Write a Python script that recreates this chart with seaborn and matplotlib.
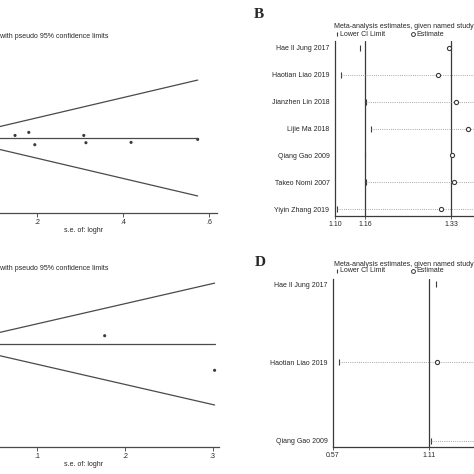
import numpy as np
import pandas as pd
import matplotlib
matplotlib.use("Agg")
import matplotlib.pyplot as plt
from matplotlib.lines import Line2D
import seaborn as sns

# ---- data ----
# A: Begg funnel (7 studies)
a_se = [0.149, 0.181, 0.195, 0.309, 0.314, 0.419, 0.574]
a_loghr = [0.335, 0.394, 0.155, 0.335, 0.194, 0.200, 0.258]
a_pooled = 0.285
a_ticks = [0.2, 0.4, 0.6]
a_ticklabels = [".2", ".4", ".6"]

# C: Begg funnel (3 studies)
c_se = [0.177, 0.302]
c_loghr = [0.181, -0.155]
c_pooled = 0.100
c_ticks = [0.1, 0.2, 0.3]
c_ticklabels = [".1", ".2", ".3"]

# B: leave-one-out, 7 studies
b_studies = ["Hae Il Jung 2017", "Haotian Liao 2019", "Jianzhen Lin 2018", "Lijie Ma 2018",
             "Qiang Gao 2009", "Takeo Nomi 2007", "Yiyin Zhang 2019"]
b_lower = [1.150, 1.111, 1.161, 1.172, 1.160, 1.162, 1.104]
b_est = [1.325, 1.304, 1.339, 1.363, 1.331, 1.335, 1.309]
b_upper = [1.52, 1.50, 1.55, 1.58, 1.53, 1.54, 1.51]
b_dotted = [False, True, True, True, False, True, True]
b_full = [1.16, 1.33, 1.53]
b_ticks = [1.10, 1.16, 1.33]

# D: leave-one-out, 3 studies
d_studies = ["Hae Il Jung 2017", "Haotian Liao 2019", "Qiang Gao 2009"]
d_lower = [1.149, 0.605, 1.122]
d_est = [1.45, 1.153, 1.42]
d_upper = [1.85, 2.20, 1.90]
d_dotted = [False, True, True]
d_full = [1.11, 1.50, 2.05]
d_ticks = [0.57, 1.11]

sns.set_theme(style="white")
plt.rcParams['font.family'] = ['Liberation Sans', 'DejaVu Sans']

W = 474.0
fig = plt.figure(figsize=(4.74, 4.74), dpi=100)
fig.patch.set_facecolor("white")

def px_axes(l, t, r, b):
    return fig.add_axes([l / W, 1 - b / W, (r - l) / W, (b - t) / W])

GREY = "#3a3a3a"
LINE = "#4a4a4a"
FS = 5.0


def funnel(ax, se, loghr, pooled, ticks, ticklabels, xmax, ylim):
    df = pd.DataFrame({"se": se, "loghr": loghr})
    s = np.array([0, max(se)])
    ax.plot(s, pooled + 1.96 * s, color=LINE, lw=0.9)
    ax.plot(s, pooled - 1.96 * s, color=LINE, lw=0.9)
    ax.plot(s, [pooled, pooled], color=LINE, lw=0.9)
    sns.scatterplot(data=df, x="se", y="loghr", ax=ax, color=GREY, s=5,
                    edgecolor="none", legend=False)
    ax.set_xlim(0, xmax)
    ax.set_ylim(*ylim)
    for sp in ["top", "right", "left"]:
        ax.spines[sp].set_visible(False)
    ax.spines["bottom"].set_color(LINE)
    ax.spines["bottom"].set_linewidth(0.9)
    ax.set_xticks(ticks)
    ax.set_xticklabels(ticklabels, fontsize=FS)
    ax.tick_params(axis="x", length=3, width=0.6, color=GREY, pad=1, bottom=True)
    ax.set_yticks([])
    ax.set_xlabel("s.e. of: loghr", fontsize=FS, labelpad=1)
    ax.set_ylabel("")
    ax.patch.set_alpha(0)


def influence(ax, studies, lower, est, upper, dotted, full, ticks, xlim, ylim):
    df = pd.DataFrame({"study": studies, "lower": lower, "est": est, "upper": upper})
    df["row"] = np.arange(len(df))
    for v in full:
        ax.axvline(v, color=GREY, lw=0.9)
    for i, r in df.iterrows():
        if dotted[i]:
            ax.plot([r["lower"], r["upper"]], [r["row"], r["row"]], color="#888888",
                    lw=0.6, ls=(0, (1, 1.6)))
    sns.scatterplot(data=df, x="lower", y="row", ax=ax, marker="|", s=14,
                    color=GREY, linewidth=0.8, legend=False)
    sns.scatterplot(data=df, x="upper", y="row", ax=ax, marker="|", s=14,
                    color=GREY, linewidth=0.8, legend=False)
    sns.scatterplot(data=df, x="est", y="row", ax=ax, marker="o", s=9,
                    facecolor="white", edgecolor=GREY, linewidth=0.8, legend=False,
                    zorder=5)
    ax.set_xlim(*xlim)
    ax.set_ylim(*ylim)
    ax.set_yticks(df["row"])
    ax.set_yticklabels(studies, fontsize=FS)
    ax.set_xticks(ticks)
    ax.set_xticklabels([f"{t:.2f}" for t in ticks], fontsize=FS)
    ax.tick_params(axis="y", length=0, pad=4)
    ax.tick_params(axis="x", length=2.5, width=0.6, color=GREY, pad=1, bottom=True)
    for sp in ["top", "right"]:
        ax.spines[sp].set_visible(False)
    for sp in ["left", "bottom"]:
        ax.spines[sp].set_color(GREY)
        ax.spines[sp].set_linewidth(0.9)
    ax.set_xlabel("")
    ax.set_ylabel("")
    ax.patch.set_alpha(0)


# A
axA = px_axes(-49, 45, 217, 213)
funnel(axA, a_se, a_loghr, a_pooled, a_ticks, a_ticklabels, 0.619,
       (a_pooled - 1.456, a_pooled + 1.806))
fig.text(108 / W, 1 - 36 / W, "Begg's funnel plot with pseudo 95% confidence limits",
         fontsize=FS, ha="right", va="center")

# C
axC = px_axes(-51, 272, 219, 447)
funnel(axC, c_se, c_loghr, c_pooled, c_ticks, c_ticklabels, 0.307,
       (c_pooled - 1.0, c_pooled + 0.70))
fig.text(108 / W, 1 - 269 / W, "Begg's funnel plot with pseudo 95% confidence limits",
         fontsize=FS, ha="right", va="center")

# B
axB = px_axes(335, 41, 588, 216)
influence(axB, b_studies, b_lower, b_est, b_upper, b_dotted, b_full, b_ticks,
          (1.10, 1.60), (6.26, -0.26))

# D
axD = px_axes(333, 279, 587, 447)
influence(axD, d_studies, d_lower, d_est, d_upper, d_dotted, d_full, d_ticks,
          (0.57, 2.0), (2.08, -0.064))

for letter, x, y in [("B", 259, 15), ("D", 260, 262)]:
    fig.text(x / W, 1 - y / W, letter, fontsize=11, fontweight="bold",
             family=["Liberation Serif", "DejaVu Serif"], ha="center", va="center")

for y in [34, 271]:
    top = y - 7
    fig.text(334 / W, 1 - top / W, "Meta-analysis estimates, given named study is omitted",
             fontsize=FS, ha="left", va="center")
    fig.add_artist(Line2D([336.5 / W], [1 - y / W], marker="|", markersize=3.5,
                          color=GREY, mew=0.8, transform=fig.transFigure))
    fig.text(340 / W, 1 - y / W, "Lower CI Limit", fontsize=FS, ha="left", va="center")
    fig.add_artist(Line2D([413 / W], [1 - y / W], marker="o", markersize=2.8,
                          mfc="white", mec=GREY, mew=0.7, transform=fig.transFigure))
    fig.text(416 / W, 1 - y / W, "Estimate", fontsize=FS, ha="left", va="center")

fig.savefig("out.png", dpi=100, facecolor="white")
